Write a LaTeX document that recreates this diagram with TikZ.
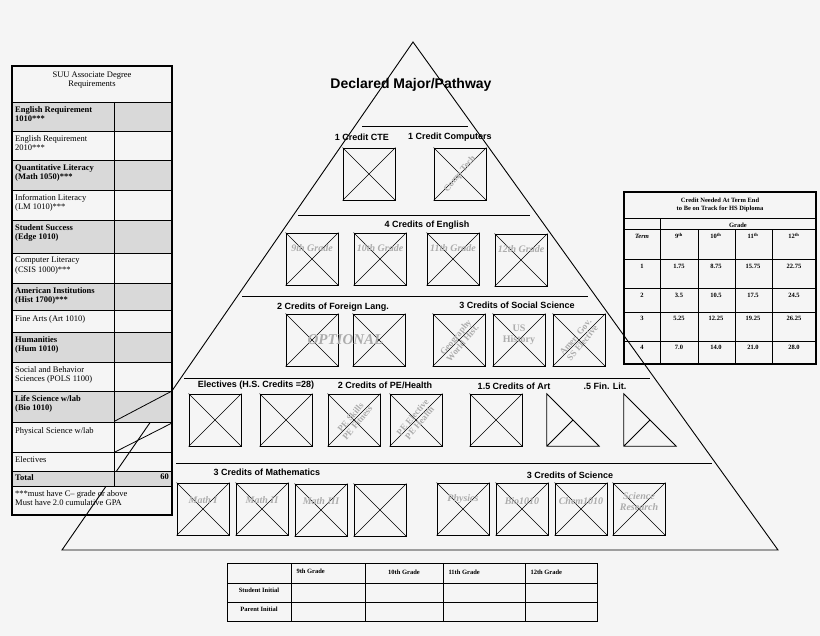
\documentclass[tikz,border=0pt]{standalone}
\usepackage{fontspec}
\setmainfont{Liberation Serif}
\newfontfamily\lsans{Liberation Sans}
\usetikzlibrary{calc}
\begin{document}
\begin{tikzpicture}[x=1pt,y=-1pt,
  lab/.style={font=\lsans\bfseries\fontsize{9}{10}\selectfont},
  cell/.style={font=\fontsize{8.5}{9.5}\selectfont,align=left,anchor=north west,inner sep=2pt},
  bcell/.style={cell,font=\bfseries\fontsize{8.5}{9.5}\selectfont},
  tt/.style={font=\bfseries\fontsize{6.5}{7.5}\selectfont},
  gtext/.style={font=\itshape\bfseries\fontsize{10}{11}\selectfont,text=gray!65},
  gs/.style={gtext,align=center,font=\bfseries\fontsize{9}{9}\selectfont},
  bx/.style={draw,minimum size=52pt,inner sep=0pt,line width=0.8pt}]
\fill[gray!8] (0,0) rectangle (820,636);
\useasboundingbox (0,0) rectangle (820,636);
\newcommand\cbox[3]{\node[bx] (#1) at (#2,#3) {};
  \draw (#1.north west)--(#1.south east) (#1.north east)--(#1.south west);}
\newcommand\halfbox[3]{\node[inner sep=0pt,minimum size=52pt] (#1) at (#2,#3) {};
  \draw[line width=0.8pt] (#1.north west)--(#1.south west)--(#1.south east)--cycle (#1.south west)--(#1.center);}
% pyramid
\coordinate (ap) at (413,42); \coordinate (bl) at (62,550); \coordinate (br) at (778,550);
\draw[line width=0.9pt] (ap)--(bl)--(br)--cycle;
\draw (362,126)--(468,126);
\draw (298,215)--(530,215);
\draw (242,296)--(588,296);
\draw (184,378)--(650,378);
\draw (176,463)--(712,463);
\node[font=\lsans\bfseries\fontsize{14}{16}\selectfont] (title) at (411,85) {Declared Major/Pathway};
% row1
\node[lab] at (362,137) {1 Credit CTE};
\node[lab] at (450,137) {1 Credit Computers};
\cbox{a1}{369}{174}\cbox{a2}{460}{174}
\node[gs,rotate=50] at (a2) {Comp Tech};
% row2
\node[lab] at (427,225) {4 Credits of English};
\cbox{b1}{312}{259}\cbox{b2}{380}{259}\cbox{b3}{453}{259}\cbox{b4}{521}{260}
\node[gtext] at ([yshift=11]b1) {9th Grade};
\node[gtext] at ([yshift=11]b2) {10th Grade};
\node[gtext] at ([yshift=11]b3) {11th Grade};
\node[gtext] at ([yshift=11]b4) {12th Grade};
% row3
\node[lab] at (333,307) {2 Credits of Foreign Lang.};
\node[lab] at (517,305) {3 Credits of Social Science};
\cbox{c1}{312}{340}\cbox{c2}{379}{340}\cbox{c3}{459}{340}\cbox{c4}{519}{340}\cbox{c5}{579}{340}
\node[gtext,font=\itshape\bfseries\fontsize{15}{16}\selectfont] at ($(c1)!0.5!(c2)$) {OPTIONAL};
\node[gs,rotate=50] at (c3) {Geography\\World Hist.};
\node[gs,font=\bfseries\fontsize{10}{11}\selectfont] at ([yshift=5]c4) {US\\History};
\node[gs,rotate=50] at (c5) {Amer. Gov.\\SS Elective};
% row4
\node[lab] at (256,385) {Electives (H.S. Credits =28)};
\node[lab] at (385,385) {2 Credits of PE/Health};
\node[lab] at (514,386) {1.5 Credits of Art};
\node[lab] at (605,386) {.5 Fin. Lit.};
\cbox{d1}{215}{420}\cbox{d2}{286}{420}\cbox{d3}{354}{420}\cbox{d4}{416}{420}\cbox{d5}{496}{420}
\halfbox{d6}{573}{420}\halfbox{d7}{650}{420}
\node[gs,rotate=50] at (d3) {PE Skills\\PE Fitness};
\node[gs,rotate=50] at (d4) {PE Elective\\PE Health};
% row5
\node[lab] at (267,472) {3 Credits of Mathematics};
\node[lab] at (570,475) {3 Credits of Science};
\cbox{e1}{203}{509}\cbox{e2}{262}{509}\cbox{e3}{321}{510}\cbox{e4}{380}{510}
\cbox{e5}{463}{509}\cbox{e6}{522}{509}\cbox{e7}{581}{509}\cbox{e8}{639}{509}
\node[gtext] at ([yshift=9]e1) {Math I};
\node[gtext] at ([yshift=9]e2) {Math II};
\node[gtext] at ([yshift=9]e3) {Math III};
\node[gtext] at ([yshift=10]e5) {Physics};
\node[gtext] at ([yshift=8]e6) {Bio1010};
\node[gtext] at ([yshift=8]e7) {Chem1010};
\node[gtext,align=center] at ([yshift=7]e8) {Science\\Research};
% left table
\begin{scope}[line width=0.8pt]
\foreach \a/\b in {102/131,160/190,220/253,283/310,332/362,391/422,471/486}
  \fill[gray!30] (12,\a) rectangle (172,\b);
\draw[line width=1.2pt] (12,66) rectangle (172,515);
\foreach \y in {102,131,160,190,220,253,283,310,332,362,391,422,452,471,486} \draw (12,\y)--(172,\y);
\draw (114,102)--(114,486);
\draw (115,421)--(172,391) (115,452)--(172,423);
\end{scope}
\node[font=\fontsize{8.5}{9.5}\selectfont,align=center] (lt) at (92,80) {SUU Associate Degree\\Requirements};
\node[bcell] at (13,104) {English Requirement\\1010***};
\node[cell] at (13,133) {English Requirement\\2010***};
\node[bcell] at (13,162) {Quantitative Literacy\\(Math 1050)***};
\node[cell] at (13,192) {Information Literacy\\(LM 1010)***};
\node[bcell] at (13,222) {Student Success\\(Edge 1010)};
\node[cell] at (13,255) {Computer Literacy\\(CSIS 1000)***};
\node[bcell] at (13,285) {American Institutions\\(Hist 1700)***};
\node[cell] at (13,313) {Fine Arts (Art 1010)};
\node[bcell] at (13,334) {Humanities\\(Hum 1010)};
\node[cell] at (13,364) {Social and Behavior\\Sciences (POLS 1100)};
\node[bcell] at (13,393) {Life Science w/lab\\(Bio 1010)};
\node[cell] at (13,425) {Physical Science w/lab};
\node[cell] at (13,454) {Electives};
\node[bcell] at (13,472) {Total};
\node[bcell,anchor=north east] at (171,472) {60};
\node[cell] at (13,488) {***must have C-- grade or above\\Must have 2.0 cumulative GPA};
% right table
\begin{scope}[line width=1pt]
\draw[line width=1.3pt] (624,192) rectangle (816,364);
\foreach \y in {219,230,260,289,313,342} \draw (624,\y)--(816,\y);
\draw (660,219)--(660,364);
\foreach \x in {698,735,772} \draw (\x,230)--(\x,364);
\end{scope}
\node[tt,align=center] (rt) at (720,205) {Credit Needed At Term End\\to Be on Track for HS Diploma};
\node[tt] at (738,225) {Grade};
\node[tt,font=\bfseries\itshape\fontsize{6.5}{7.5}\selectfont] at (642,236) {Term};
\foreach \x/\t in {679/9,716/10,753/11,794/12} \node[tt] at (\x,236) {\t\textsuperscript{th}};
\foreach \y/\r/\a/\b/\c/\d in {266/1/1.75/8.75/15.75/22.75,295/2/3.5/10.5/17.5/24.5,318/3/5.25/12.25/19.25/26.25,347/4/7.0/14.0/21.0/28.0}{
  \node[tt] at (642,\y) {\r}; \node[tt] at (679,\y) {\a}; \node[tt] at (716,\y) {\b};
  \node[tt] at (753,\y) {\c}; \node[tt] at (794,\y) {\d};}
% bottom table
\begin{scope}[line width=0.8pt]
\draw (227,563) rectangle (597,621);
\draw (227,583)--(597,583) (227,602)--(597,602);
\foreach \x in {291,365,443,525} \draw (\x,563)--(\x,621);
\end{scope}
\node[tt,anchor=west] at (293,571) {9th Grade};
\node[tt] at (404,572) {10th Grade};
\node[tt,anchor=west] at (445,572) {11th Grade};
\node[tt,anchor=west] at (527,572) {12th Grade};
\node[tt] at (259,590) {Student Initial};
\node[tt] at (259,609) {Parent Initial};
\end{tikzpicture}
\end{document}
